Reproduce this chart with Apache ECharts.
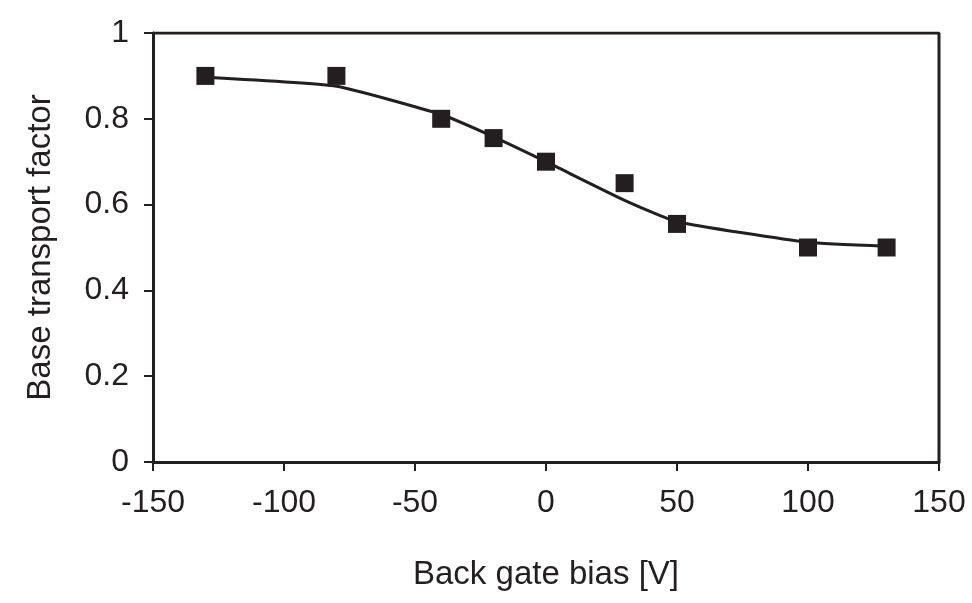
<!DOCTYPE html>
<html>
<head>
<meta charset="utf-8">
<script src="https://cdn.jsdelivr.net/npm/echarts@6/dist/echarts.min.js"></script>
<style>
  html, body { margin: 0; padding: 0; background: #fff; }
  #chart { width: 972px; height: 603px; }
</style>
</head>
<body>
<div id="chart"></div>
<script>
// measured points (squares)
const biasPoints = [-130, -80, -40, -20, 0, 30, 50, 100, 130];
const factorPoints = [0.90, 0.90, 0.80, 0.755, 0.70, 0.65, 0.555, 0.50, 0.50];

// fitted curve (solid line)
const biasFit = [-130, -80, -40, -20, 0, 30, 50, 100, 130];
const factorFit = [0.897, 0.876, 0.81, 0.758, 0.70, 0.61, 0.56, 0.512, 0.503];

const xTicks = [-150, -100, -50, 0, 50, 100, 150];
const yTicks = [0, 0.2, 0.4, 0.6, 0.8, 1];

const FONT = '"Liberation Sans", Arial, sans-serif';
const INK = '#231f20';

const chart = echarts.init(document.getElementById('chart'));

const axisLine = { show: true, onZero: false, lineStyle: { color: INK, width: 3 } };

chart.setOption({
  backgroundColor: '#fff',
  animation: false,
  grid: {
    left: 153, right: 33, top: 33, bottom: 141,
    containLabel: false,
    outerBoundsMode: 'none'
  },
  xAxis: {
    type: 'value',
    min: -150,
    max: 150,
    interval: 50,
    name: 'Back gate bias [V]',
    nameLocation: 'middle',
    nameGap: 96,
    nameTextStyle: { fontFamily: FONT, fontSize: 33, color: INK },
    axisLine: axisLine,
    axisTick: { show: true, length: 9, lineStyle: { color: INK, width: 2 } },
    axisLabel: {
      fontFamily: FONT, fontSize: 32, color: INK, margin: 25,
      formatter: (v) => (xTicks.includes(v) ? String(v) : '')
    },
    splitLine: { show: false }
  },
  yAxis: {
    type: 'value',
    min: 0,
    max: 1,
    interval: 0.2,
    name: 'Base transport factor',
    nameLocation: 'middle',
    nameGap: 96,
    nameTextStyle: { fontFamily: FONT, fontSize: 33, color: INK },
    axisLine: axisLine,
    axisTick: { show: true, length: 9, lineStyle: { color: INK, width: 2 } },
    axisLabel: {
      fontFamily: FONT, fontSize: 32, color: INK, margin: 24,
      formatter: (v) => {
        const t = yTicks.find((y) => Math.abs(y - v) < 1e-9);
        return t === undefined ? '' : String(t);
      }
    },
    splitLine: { show: false }
  },
  series: [
    {
      name: 'fit',
      type: 'line',
      data: biasFit.map((x, i) => [x, factorFit[i]]),
      smooth: 0.15,
      showSymbol: false,
      lineStyle: { color: INK, width: 3 },
      z: 2
    },
    {
      name: 'data',
      type: 'scatter',
      data: biasPoints.map((x, i) => [x, factorPoints[i]]),
      symbol: 'rect',
      symbolSize: 18,
      itemStyle: { color: INK, opacity: 1 },
      z: 3
    },
    {
      // top and right frame
      type: 'line',
      data: [[-150, 1], [150, 1], [150, 0]],
      showSymbol: false,
      silent: true,
      lineStyle: { color: INK, width: 3 },
      z: 1
    }
  ]
});
</script>
</body>
</html>
